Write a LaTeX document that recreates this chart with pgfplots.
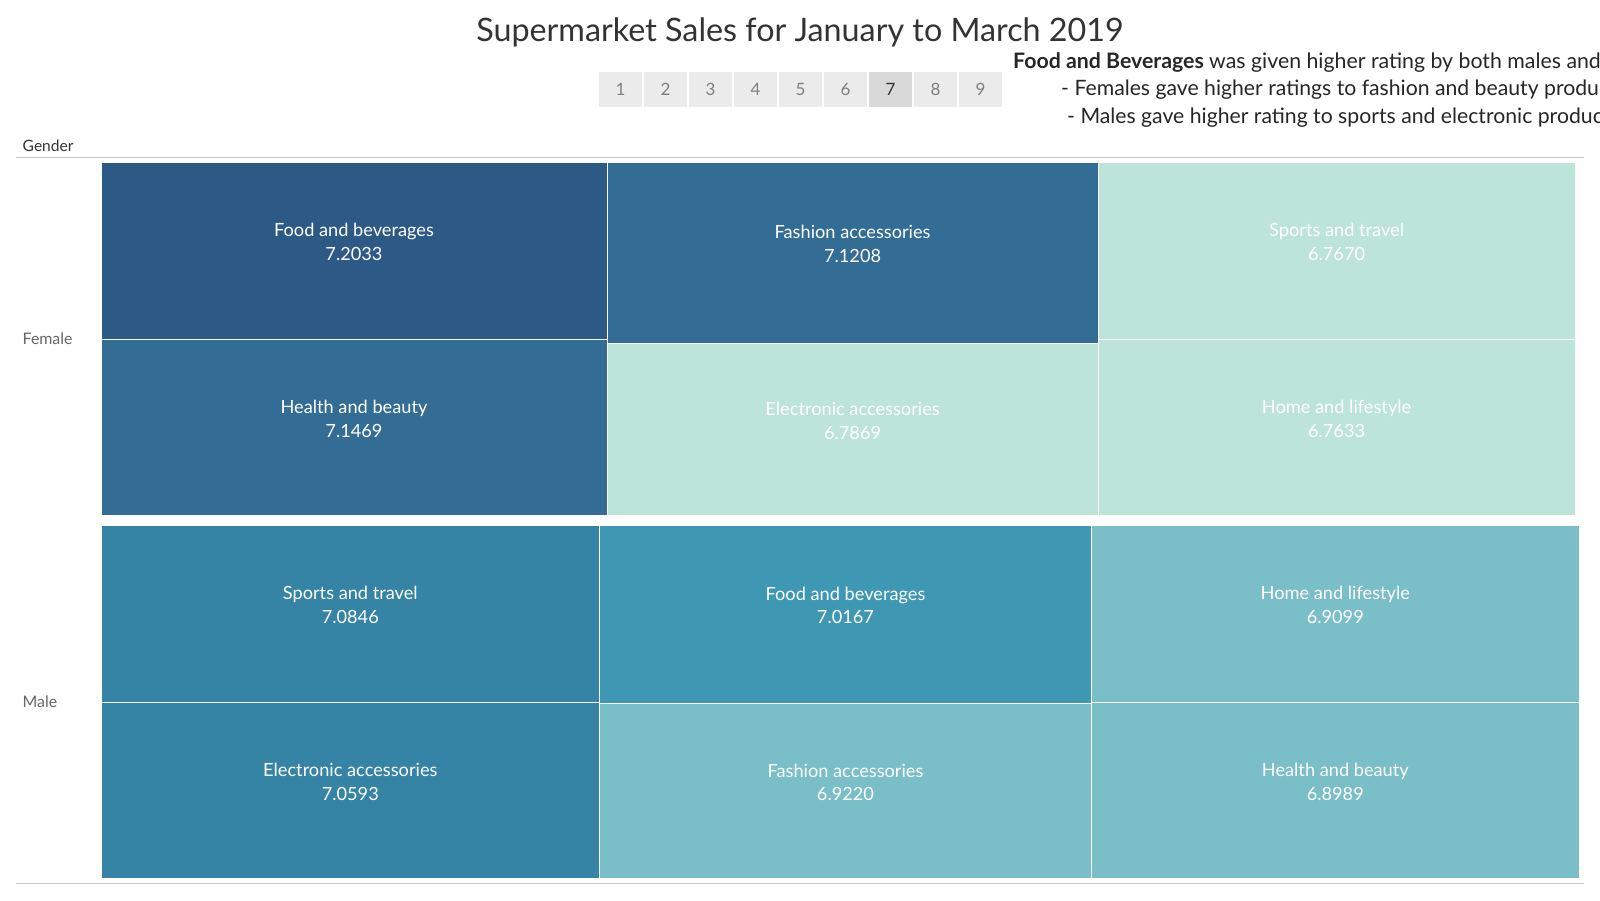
\documentclass[border=0pt]{standalone}
\usepackage{pgfplots}
\pgfplotsset{compat=1.18}
\usepackage{fontspec}
\setmainfont{Lato}
\definecolor{cA}{RGB}{45,89,134}
\definecolor{cB}{RGB}{51,108,148}
\definecolor{cC}{RGB}{188,228,216}
\definecolor{cD}{RGB}{53,131,165}
\definecolor{cE}{RGB}{62,152,180}
\definecolor{cF}{RGB}{122,190,200}
\definecolor{rule}{RGB}{200,200,200}
\definecolor{txt}{RGB}{51,51,51}
\definecolor{pgbg}{RGB}{235,235,235}
\definecolor{pgsel}{RGB}{217,217,217}
\newcommand\lbl{\fontsize{18.2}{23.4}\selectfont}
% x1 y1 x2 y2 colour cx cy name value
\newcommand\cell[9]{%
  \addplot[fill=#5,draw=white,line width=1pt] coordinates {(#1,#2) (#3,#2) (#3,#4) (#1,#4) (#1,#2)};
  \node[text=white,font=\lbl,align=center,inner sep=0pt] at (axis cs:#6,#7+1) {#8\\#9};
}
\newcommand\pg[4]{%
  \fill[#2] (axis cs:#1,72) rectangle (axis cs:#1+43,106.7);
  \node[text=#3,font=\fontsize{17}{20}\selectfont] at (axis cs:#1+21.5,89.5) {#4};
}
\begin{document}
\begin{tikzpicture}
\useasboundingbox (0,0) rectangle (1600pt,900pt);
\begin{axis}[
  at={(0pt,0pt)}, anchor=south west,
  width=1600pt, height=900pt, scale only axis,
  xmin=0, xmax=1600, ymin=0, ymax=900, y dir=reverse,
  hide axis, clip=false,
]
% title
\node[text=txt,font=\fontsize{32.3}{36}\selectfont,anchor=base] at (axis cs:800,41) {Supermarket Sales for January to March 2019};
% paginator
\pg{599}{pgbg}{gray}{1}
\pg{644}{pgbg}{gray}{2}
\pg{689}{pgbg}{gray}{3}
\pg{734}{pgbg}{gray}{4}
\pg{779}{pgbg}{gray}{5}
\pg{824}{pgbg}{gray}{6}
\pg{869}{pgsel}{txt}{7}
\pg{914}{pgbg}{gray}{8}
\pg{959}{pgbg}{gray}{9}
% annotation
\node[overlay,text=black!85,font=\fontsize{21.3}{24}\selectfont,anchor=base west,inner sep=0pt] at (axis cs:1013,68.5) {\textbf{Food and Beverages} was given higher rating by both males and females};
\node[overlay,text=black!85,font=\fontsize{21.2}{24}\selectfont,anchor=base west,inner sep=0pt] at (axis cs:1061,95) {- Females gave higher ratings to fashion and beauty products};
\node[overlay,text=black!85,font=\fontsize{21.2}{24}\selectfont,anchor=base west,inner sep=0pt] at (axis cs:1067,123.5) {- Males gave higher rating to sports and electronic products};
% header and rules
\node[text=txt,font=\fontsize{15.6}{18}\selectfont,anchor=base west,inner sep=0pt] at (axis cs:22.5,151) {Gender};
\draw[rule,line width=1pt] (axis cs:16,157.3) -- (axis cs:1584,157.3);
\draw[rule,line width=1pt] (axis cs:16,883.3) -- (axis cs:1584,883.3);
\node[text=black!60,font=\fontsize{15.9}{18}\selectfont,anchor=west,inner sep=0pt] at (axis cs:22.5,339) {Female};
\node[text=black!60,font=\fontsize{15.9}{18}\selectfont,anchor=west,inner sep=0pt] at (axis cs:22.5,702) {Male};
% Female treemap
\cell{101}{162}{607}{339.5}{cA}{354}{241}{Food and beverages}{7.2033}
\cell{101}{339.5}{607}{515.7}{cB}{354}{418}{Health and beauty}{7.1469}
\cell{607}{162}{1098.3}{343.1}{cB}{852.6}{243}{Fashion accessories}{7.1208}
\cell{607}{343.1}{1098.3}{515.7}{cC}{852.6}{420}{Electronic accessories}{6.7869}
\cell{1098.3}{162}{1575}{339}{cC}{1336.6}{241}{Sports and travel}{6.7670}
\cell{1098.3}{339}{1575}{515.7}{cC}{1336.6}{418}{Home and lifestyle}{6.7633}
% Male treemap
\cell{101}{525}{599.5}{702.2}{cD}{350.3}{604}{Sports and travel}{7.0846}
\cell{101}{702.2}{599.5}{878.7}{cD}{350.3}{781}{Electronic accessories}{7.0593}
\cell{599.5}{525}{1091.5}{703}{cE}{845.5}{604.5}{Food and beverages}{7.0167}
\cell{599.5}{703}{1091.5}{878.7}{cF}{845.5}{781.4}{Fashion accessories}{6.9220}
\cell{1091.5}{525}{1579}{702.2}{cF}{1335.3}{604}{Home and lifestyle}{6.9099}
\cell{1091.5}{702.2}{1579}{878.7}{cF}{1335.3}{781}{Health and beauty}{6.8989}
\end{axis}
\end{tikzpicture}
\end{document}
